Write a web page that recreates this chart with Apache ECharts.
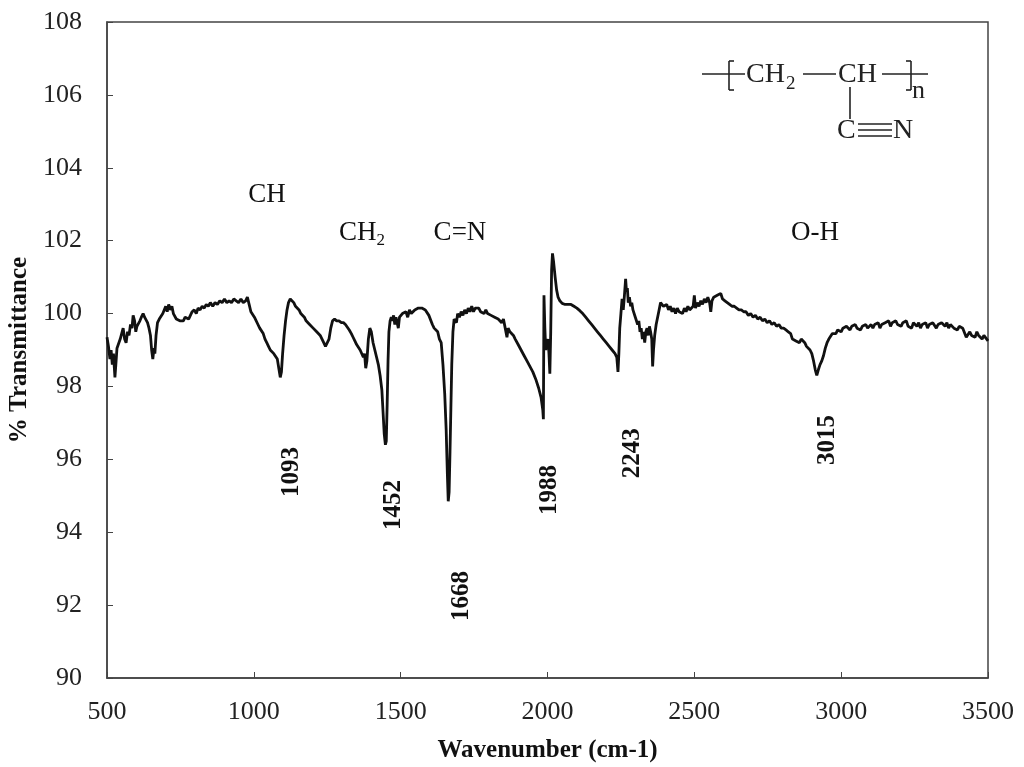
<!DOCTYPE html>
<html>
<head>
<meta charset="utf-8">
<script src="https://cdn.jsdelivr.net/npm/echarts@6/dist/echarts.min.js"></script>
<style>html,body{margin:0;padding:0;background:#fff}#c{width:1024px;height:767px}</style>
</head>
<body>
<div id="c"></div>
<script>
// FTIR spectrum of polyacrylonitrile: [wavenumber, % transmittance]
const spectrum = [[500,99.35],[505,99.1],[510,98.75],[514,99.0],[518,98.6],[522,98.9],[527,98.25],[531,98.7],[534,99.05],[540,99.0],[545,99.3],[550,99.45],[555,99.6],[560,99.3],[565,99.2],[570,99.5],[575,99.4],[580,99.7],[585,99.6],[589,99.95],[594,99.8],[598,99.5],[602,99.65],[607,99.7],[612,99.8],[617,99.9],[623,100.0],[628,99.9],[633,99.85],[638,99.75],[643,99.6],[648,99.4],[652,99.0],[656,98.75],[660,99.05],[663,98.9],[667,99.4],[672,99.75],[678,99.85],[684,99.9],[690,100.0],[695,100.05],[700,100.2],[705,100.05],[710,100.25],[716,100.1],[721,100.2],[726,100.0],[731,100.05],[736,99.85],[742,99.9],[748,99.8],[754,99.85],[760,99.8],[766,99.9],[772,99.95],[778,99.85],[784,99.95],[790,100.05],[797,100.1],[804,100.0],[810,100.15],[817,100.1],[824,100.2],[831,100.15],[838,100.25],[845,100.2],[852,100.3],[860,100.2],[868,100.3],[876,100.25],[884,100.35],[892,100.3],[900,100.4],[908,100.3],[916,100.35],[924,100.3],[932,100.4],[940,100.35],[948,100.3],[956,100.4],[964,100.3],[972,100.35],[978,100.45],[984,100.25],[990,100.05],[996,100.0],[1002,99.9],[1008,99.85],[1014,99.7],[1020,99.6],[1026,99.55],[1032,99.45],[1038,99.3],[1044,99.2],[1050,99.1],[1056,99.0],[1062,98.95],[1068,98.9],[1074,98.85],[1080,98.75],[1085,98.5],[1090,98.25],[1094,98.4],[1098,98.9],[1103,99.4],[1108,99.8],[1113,100.1],[1118,100.3],[1124,100.4],[1130,100.35],[1136,100.3],[1142,100.2],[1148,100.15],[1154,100.1],[1160,100.0],[1166,99.95],[1172,99.9],[1178,99.8],[1184,99.75],[1190,99.7],[1196,99.65],[1202,99.6],[1208,99.55],[1214,99.5],[1220,99.45],[1226,99.4],[1232,99.35],[1238,99.2],[1244,99.1],[1250,99.1],[1256,99.3],[1262,99.6],[1268,99.8],[1275,99.85],[1282,99.8],[1290,99.8],[1298,99.75],[1305,99.75],[1312,99.7],[1318,99.7],[1325,99.55],[1332,99.45],[1338,99.35],[1344,99.25],[1350,99.15],[1356,99.1],[1362,99.0],[1368,98.95],[1373,98.8],[1377,98.9],[1381,98.5],[1385,98.7],[1390,99.3],[1395,99.6],[1400,99.5],[1406,99.2],[1412,99.0],[1418,98.8],[1424,98.6],[1430,98.3],[1436,97.9],[1440,97.3],[1444,96.7],[1448,96.4],[1451,96.5],[1454,97.5],[1457,98.7],[1460,99.5],[1464,99.8],[1468,99.9],[1472,99.8],[1476,99.95],[1480,99.7],[1484,99.9],[1488,99.85],[1492,99.6],[1496,99.9],[1500,99.85],[1506,100.0],[1512,99.95],[1518,100.05],[1524,99.9],[1530,100.1],[1536,100.0],[1542,100.05],[1548,100.1],[1554,100.05],[1560,100.15],[1566,100.1],[1572,100.15],[1578,100.2],[1584,100.1],[1590,100.05],[1596,99.95],[1602,99.9],[1608,99.7],[1614,99.6],[1620,99.55],[1626,99.5],[1632,99.3],[1638,99.2],[1644,98.6],[1650,97.8],[1655,96.8],[1659,95.6],[1662,94.85],[1665,95.1],[1668,96.2],[1671,97.4],[1674,98.6],[1678,99.5],[1682,99.85],[1686,99.9],[1690,99.75],[1694,100.0],[1700,99.9],[1706,100.05],[1712,99.95],[1718,100.1],[1724,100.0],[1730,100.15],[1736,100.05],[1742,100.2],[1748,100.05],[1754,100.15],[1760,100.1],[1766,100.15],[1772,100.05],[1778,100.1],[1784,100.0],[1790,100.1],[1796,100.0],[1802,100.05],[1808,99.95],[1814,100.0],[1820,99.9],[1826,99.95],[1832,99.85],[1838,99.9],[1844,99.75],[1850,99.85],[1856,99.6],[1862,99.35],[1866,99.6],[1872,99.5],[1878,99.55],[1884,99.4],[1890,99.3],[1900,99.15],[1910,99.0],[1920,98.85],[1930,98.7],[1940,98.55],[1950,98.4],[1960,98.2],[1970,97.95],[1978,97.7],[1984,97.35],[1986,97.1],[1988,100.5],[1991,99.6],[1994,99.0],[1998,99.2],[2002,99.3],[2005,98.9],[2008,98.35],[2011,99.5],[2014,101.2],[2017,101.65],[2021,101.4],[2026,101.0],[2031,100.65],[2036,100.45],[2042,100.35],[2050,100.28],[2060,100.25],[2070,100.25],[2080,100.25],[2090,100.2],[2100,100.15],[2110,100.08],[2120,100.0],[2130,99.9],[2140,99.8],[2150,99.7],[2160,99.6],[2170,99.5],[2180,99.4],[2190,99.3],[2200,99.2],[2210,99.1],[2220,99.0],[2230,98.9],[2236,98.8],[2240,98.4],[2243,98.9],[2246,99.6],[2250,100.0],[2254,100.4],[2258,100.1],[2262,100.5],[2266,100.95],[2269,100.6],[2272,100.7],[2275,100.3],[2279,100.45],[2283,100.2],[2287,100.3],[2291,100.1],[2295,100.15],[2299,99.9],[2303,99.95],[2307,99.7],[2311,99.8],[2315,99.5],[2319,99.6],[2323,99.3],[2327,99.5],[2331,99.2],[2335,99.5],[2339,99.6],[2343,99.4],[2347,99.65],[2351,99.5],[2355,99.3],[2358,98.55],[2361,99.0],[2365,99.4],[2370,99.7],[2375,99.9],[2380,100.1],[2385,100.3],[2390,100.35],[2395,100.2],[2400,100.15],[2406,100.25],[2412,100.1],[2418,100.2],[2424,100.05],[2430,100.15],[2436,100.0],[2442,100.15],[2448,100.05],[2454,100.1],[2460,100.0],[2466,100.15],[2472,100.05],[2478,100.2],[2484,100.1],[2490,100.15],[2496,100.2],[2500,100.5],[2504,100.15],[2510,100.3],[2516,100.2],[2522,100.35],[2528,100.25],[2534,100.4],[2540,100.3],[2546,100.45],[2552,100.3],[2556,100.05],[2560,100.35],[2566,100.45],[2572,100.4],[2578,100.5],[2584,100.45],[2590,100.55],[2596,100.4],[2604,100.35],[2612,100.3],[2620,100.25],[2628,100.2],[2636,100.2],[2644,100.15],[2652,100.1],[2660,100.1],[2668,100.05],[2676,100.05],[2684,99.95],[2692,100.0],[2700,99.9],[2708,99.95],[2716,99.85],[2724,99.9],[2732,99.8],[2740,99.85],[2748,99.75],[2756,99.8],[2764,99.7],[2772,99.75],[2780,99.65],[2788,99.7],[2796,99.6],[2804,99.6],[2812,99.55],[2820,99.5],[2828,99.45],[2834,99.3],[2840,99.35],[2846,99.25],[2852,99.3],[2858,99.2],[2864,99.3],[2870,99.25],[2876,99.2],[2882,99.1],[2888,99.15],[2894,99.0],[2900,98.9],[2906,98.7],[2912,98.45],[2917,98.3],[2922,98.45],[2928,98.6],[2934,98.7],[2940,98.85],[2946,99.05],[2952,99.2],[2958,99.3],[2964,99.35],[2970,99.45],[2976,99.5],[2982,99.45],[2988,99.55],[2994,99.6],[3000,99.5],[3006,99.6],[3012,99.55],[3018,99.65],[3024,99.6],[3030,99.55],[3036,99.65],[3042,99.6],[3048,99.7],[3054,99.6],[3060,99.65],[3066,99.55],[3072,99.65],[3078,99.6],[3084,99.7],[3090,99.6],[3096,99.65],[3102,99.7],[3108,99.6],[3114,99.7],[3120,99.65],[3126,99.75],[3132,99.6],[3138,99.7],[3144,99.65],[3150,99.75],[3156,99.7],[3162,99.8],[3168,99.65],[3174,99.75],[3180,99.7],[3186,99.8],[3192,99.7],[3198,99.75],[3204,99.65],[3210,99.75],[3216,99.7],[3222,99.8],[3228,99.65],[3234,99.7],[3240,99.6],[3246,99.75],[3252,99.7],[3258,99.65],[3264,99.75],[3270,99.6],[3276,99.7],[3282,99.65],[3288,99.75],[3294,99.6],[3300,99.7],[3306,99.65],[3312,99.75],[3318,99.7],[3324,99.6],[3330,99.7],[3336,99.65],[3342,99.75],[3348,99.7],[3354,99.65],[3360,99.75],[3366,99.6],[3372,99.7],[3378,99.65],[3384,99.6],[3390,99.65],[3396,99.55],[3402,99.65],[3408,99.6],[3414,99.6],[3420,99.55],[3426,99.35],[3432,99.3],[3438,99.5],[3444,99.4],[3450,99.45],[3456,99.35],[3462,99.5],[3468,99.4],[3474,99.45],[3480,99.3],[3486,99.4],[3492,99.35],[3500,99.25]];

// Peak wavenumber labels (rotated) and their anchor positions in data units
const peakLabels = ['1093', '1452', '1668', '1988', '2243', '3015'];
const peakLabelX = [1128, 1476, 1708, 2007, 2289, 2953];
const peakLabelY = [95.65, 94.75, 92.25, 95.16, 96.17, 96.53];

// Functional group labels
const groupLabels = ['{a|CH}', '{a|CH}{s|2}', '{a|C=N}', '{a|O-H}'];
const groupLabelX = [1045, 1368, 1702, 2911];
const groupLabelY = [103.25, 102.2, 102.2, 102.2];

const xTicks = [500, 1000, 1500, 2000, 2500, 3000, 3500];
const yTicks = [90, 92, 94, 96, 98, 100, 102, 104, 106, 108];

const SERIF = '"Liberation Serif", "Times New Roman", serif';
const chart = echarts.init(document.getElementById('c'));

const lineStyle = { stroke: '#222', lineWidth: 1.6 };
function seg(x1, y1, x2, y2) {
  return { type: 'line', shape: { x1, y1, x2, y2 }, style: lineStyle, silent: true };
}
function txt(x, y, t, size, align) {
  return { type: 'text', x, y, silent: true,
    style: { text: t, font: size + 'px ' + SERIF, fill: '#222', align: align || 'left', verticalAlign: 'middle' } };
}

chart.setOption({
  animation: false,
  grid: { left: 107, right: 36, top: 22, bottom: 89, show: true, borderColor: '#444', borderWidth: 1.5,
    containLabel: false, outerBoundsMode: 'none' },
  xAxis: {
    type: 'value', min: xTicks[0], max: xTicks[xTicks.length - 1], interval: 500,
    name: 'Wavenumber (cm-1)', nameLocation: 'middle', nameGap: 60,
    nameTextStyle: { fontFamily: SERIF, fontWeight: 'bold', fontSize: 25, color: '#111' },
    axisLine: { show: true, lineStyle: { color: '#444', width: 1.5 } },
    axisTick: { show: true, inside: true, length: 6, lineStyle: { color: '#444' } },
    axisLabel: { fontFamily: SERIF, fontSize: 26, color: '#222', margin: 21, formatter: v => String(v) },
    splitLine: { show: false }
  },
  yAxis: {
    type: 'value', min: yTicks[0], max: yTicks[yTicks.length - 1], interval: 2,
    name: '% Transmittance', nameLocation: 'middle', nameGap: 73, nameRotate: 90,
    nameTextStyle: { fontFamily: SERIF, fontWeight: 'bold', fontSize: 25, color: '#111' },
    axisLine: { show: true, lineStyle: { color: '#444', width: 1.5 } },
    axisTick: { show: true, inside: true, length: 6, lineStyle: { color: '#444' } },
    axisLabel: { fontFamily: SERIF, fontSize: 26, color: '#222', margin: 25, formatter: v => String(v) },
    splitLine: { show: false }
  },
  series: [
    {
      type: 'line', data: spectrum, showSymbol: false, symbol: 'none',
      lineStyle: { color: '#111', width: 2.8 }, z: 3
    },
    {
      type: 'scatter', symbolSize: 0, silent: true, itemStyle: { opacity: 1 },
      data: peakLabels.map((t, i) => ({ value: [peakLabelX[i], peakLabelY[i]], name: t })),
      label: { show: true, position: 'inside', rotate: 90, formatter: p => p.name, opacity: 1,
        fontFamily: SERIF, fontWeight: 'bold', fontSize: 25, color: '#111' }
    },
    {
      type: 'scatter', symbolSize: 0, silent: true, itemStyle: { opacity: 1 },
      data: groupLabels.map((t, i) => ({ value: [groupLabelX[i], groupLabelY[i]], name: t })),
      label: { show: true, position: 'inside', formatter: p => p.name, opacity: 1, color: '#111',
        rich: {
          a: { fontFamily: SERIF, fontSize: 27, color: '#111' },
          s: { fontFamily: SERIF, fontSize: 17, color: '#111', padding: [14, 0, 0, 0] }
        } }
    }
  ],
  graphic: [
    seg(702, 74, 745, 74),
    seg(729, 61, 729, 90), seg(729, 61, 734, 61), seg(729, 90, 734, 90),
    txt(746, 75, 'CH', 28),
    txt(786, 84, '2', 19),
    seg(803, 74, 836, 74),
    txt(838, 75, 'CH', 28),
    seg(882, 74, 928, 74),
    seg(911, 61, 911, 90), seg(906, 61, 911, 61), seg(906, 90, 911, 90),
    txt(912, 91, 'n', 26),
    seg(850, 87, 850, 119),
    txt(837, 131, 'C', 28),
    seg(858, 124, 892, 124), seg(858, 130, 892, 130), seg(858, 136, 892, 136),
    txt(893, 131, 'N', 28)
  ]
});
</script>
</body>
</html>
